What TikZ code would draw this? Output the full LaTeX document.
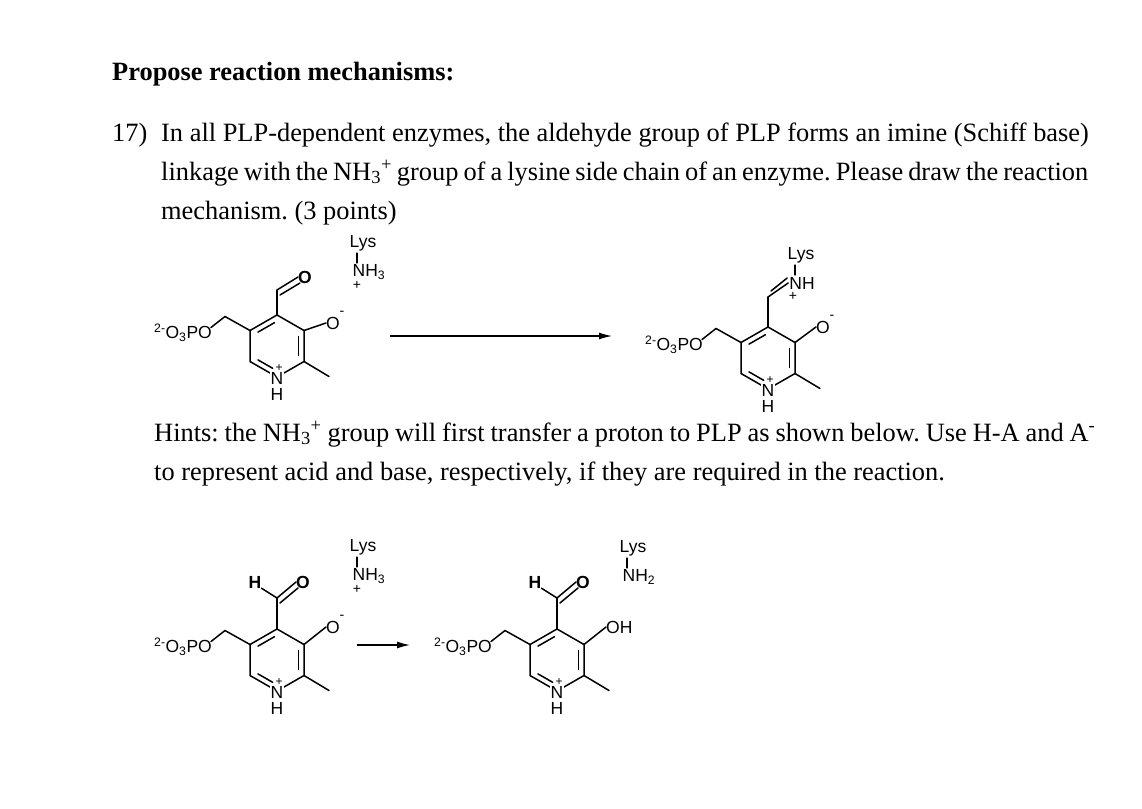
\documentclass[tikz,border=0pt]{standalone}
\usepackage{fontspec}
\setmainfont{Liberation Serif}
\newfontfamily\chem{Liberation Sans}
\usetikzlibrary{calc,arrows.meta}
\frenchspacing
\newcommand\pyr[3]{%
  \coordinate (#1c) at (#2,#3);
  \coordinate (#1a4) at ($(#1c)+(0,-31)$);
  \coordinate (#1a3) at ($(#1c)+(27,-15.5)$);
  \coordinate (#1a2) at ($(#1c)+(27,15.5)$);
  \coordinate (#1a1) at ($(#1c)+(0,31)$);
  \coordinate (#1a6) at ($(#1c)+(-27,15.5)$);
  \coordinate (#1a5) at ($(#1c)+(-27,-15.5)$);
  \draw[bond] (#1a4)--(#1a3)--(#1a2)--(#1a1)--(#1a6)--(#1a5)--cycle;
  \draw[bond,shorten <=3pt,shorten >=3pt] ($(#1c)+(-21.6,-12.4)$)--($(#1c)+(0,-24.8)$);
  \draw[bond,shorten <=3pt,shorten >=3pt] ($(#1c)+(21.6,-12.4)$)--($(#1c)+(21.6,12.4)$);
  \draw[bond,shorten <=3pt,shorten >=5pt] ($(#1c)+(-21.6,12.4)$)--($(#1c)+(0,24.8)$);
  \node[lab,fill=white,inner sep=1pt] (#1N) at ($(#1a1)+(0,1)$) {N};
  \node[lab,font=\chem\fontsize{12}{12}\selectfont] at ($(#1a1)+(2,-9)$) {+};
  \node[lab] at ($(#1a1)+(0,17)$) {H};
  \draw[bond] (#1a2)--($(#1a2)+(25,15)$);
  \coordinate (#1ch) at ($(#1a5)+(-25,-14)$);
  \draw[bond] (#1a5)--(#1ch);
  \node[lab,anchor=east] (#1po) at ($(#1ch)+(-13,16)$) {\textsuperscript{2-}O\textsubscript{3}PO};
  \draw[bond] (#1ch)--($(#1po.east)+(-1,-5)$);
}
\begin{document}
\begin{tikzpicture}[x=1pt,y=-1pt,
  bond/.style={line width=1.5pt,line cap=round},
  lab/.style={font=\chem\fontsize{17.5}{17.5}\selectfont,inner sep=0pt},
  blab/.style={font=\chem\bfseries\fontsize{17.5}{17.5}\selectfont,inner sep=0pt},
  chg/.style={font=\chem\fontsize{14}{14}\selectfont,inner sep=0pt},
  txt/.style={font=\fontsize{26.4}{30}\selectfont,anchor=base west,inner sep=0pt},
  rxn/.style={line width=1.2pt,-{Latex[length=13pt,width=7pt]}}]
\useasboundingbox[fill=white] (0,0) rectangle (1142,808);
\node[txt,font=\bfseries\fontsize{26.4}{30}\selectfont] (t0) at (112,80) {Propose reaction mechanisms:};
\node[txt] (t1a) at (112,141) {17)};
\node[txt] (t1) at (161,141) {In all PLP-dependent enzymes, the aldehyde group of PLP forms an imine (Schiff base)};
\node[txt] (t2) at (161,180) {\spaceskip=0.19em linkage with the NH\textsubscript{3}\textsuperscript{+} group of a lysine side chain of an enzyme. Please draw the reaction};
\node[txt] (t3) at (161,219) {mechanism. (3 points)};
\node[txt] (h1) at (154,441) {\spaceskip=0.225em Hints: the NH\textsubscript{3}\textsuperscript{+} group will first transfer a proton to PLP as shown below. Use H-A and A\textsuperscript{-}};
\node[txt] (h2) at (154,480) {to represent acid and base, respectively, if they are required in the reaction.};

% molecule 1
\pyr{m}{277}{346}
\coordinate (mald) at (277,290);
\draw[bond] (ma4)--(mald);
\node[blab] (mO) at (305,277) {O};
\draw[bond] (mald)--(mO.west);
\draw[bond] ($(mald)+(3,5)$)--($(mO.west)+(2,6)$);
\node[lab] (mOm) at (333,323) {O};
\node[chg] at (342,313) {-};
\draw[bond] (ma3)--(mOm.west);
\node[lab] (mLys) at (363,243) {Lys};
\node[lab] (mNH) at (369,272) {NH\textsubscript{3}};
\draw[bond,line width=1.2pt] ($(mLys.south)+(-6,2)$)--($(mLys.south)+(-6,12)$);
\node[chg] at (357,285) {+};

\draw[rxn] (390,336)--(612,336);

% molecule 2
\pyr{p}{768}{358}
\coordinate (pim) at (768,297);
\draw[bond] (pa4)--(pim);
\node[lab] (pN) at (802,283) {NH};
\draw[bond] (pim)--($(pN.west)+(-1,0)$);
\draw[bond] ($(pim)+(3,-6)$)--($(pN.west)+(-2,-5)$);
\node[chg] at (793,296) {+};
\node[lab] (pLys) at (801,255) {Lys};
\draw[bond,line width=1.2pt] ($(pLys.south)+(-6,2)$)--($(pLys.south)+(-6,12)$);
\node[lab] (pOm) at (823,327) {O};
\node[chg] at (832,317) {-};
\draw[bond] (pa3)--(pOm.west);

% molecule 3
\pyr{q}{277}{660}
\coordinate (qald) at (277,598);
\draw[bond] (qa4)--(qald);
\node[blab] (qH) at (255,582) {H};
\node[blab] (qO) at (303,582) {O};
\draw[bond] (qald)--(qH.south east);
\draw[bond] (qald)--(qO.west);
\draw[bond] ($(qald)+(3,5)$)--($(qO.west)+(2,6)$);
\node[lab] (qOm) at (333,627) {O};
\node[chg] at (342,617) {-};
\draw[bond] (qa3)--(qOm.west);
\node[lab] (qLys) at (363,547) {Lys};
\node[lab] (qNH) at (369,576) {NH\textsubscript{3}};
\draw[bond,line width=1.2pt] ($(qLys.south)+(-6,2)$)--($(qLys.south)+(-6,12)$);
\node[chg] at (357,589) {+};

\draw[rxn] (357,645)--(410,645);

% molecule 4
\pyr{s}{557}{660}
\coordinate (sald) at (557,598);
\draw[bond] (sa4)--(sald);
\node[blab] (sH) at (535,582) {H};
\node[blab] (sO) at (583,582) {O};
\draw[bond] (sald)--(sH.south east);
\draw[bond] (sald)--(sO.west);
\draw[bond] ($(sald)+(3,5)$)--($(sO.west)+(2,6)$);
\node[lab,anchor=west] (sOH) at (606,627) {OH};
\draw[bond] (sa3)--(sOH.west);
\node[lab] (sLys) at (633,548) {Lys};
\node[lab] (sNH) at (639,577) {NH\textsubscript{2}};
\draw[bond,line width=1.2pt] ($(sLys.south)+(-6,2)$)--($(sLys.south)+(-6,12)$);
\end{tikzpicture}
\end{document}
